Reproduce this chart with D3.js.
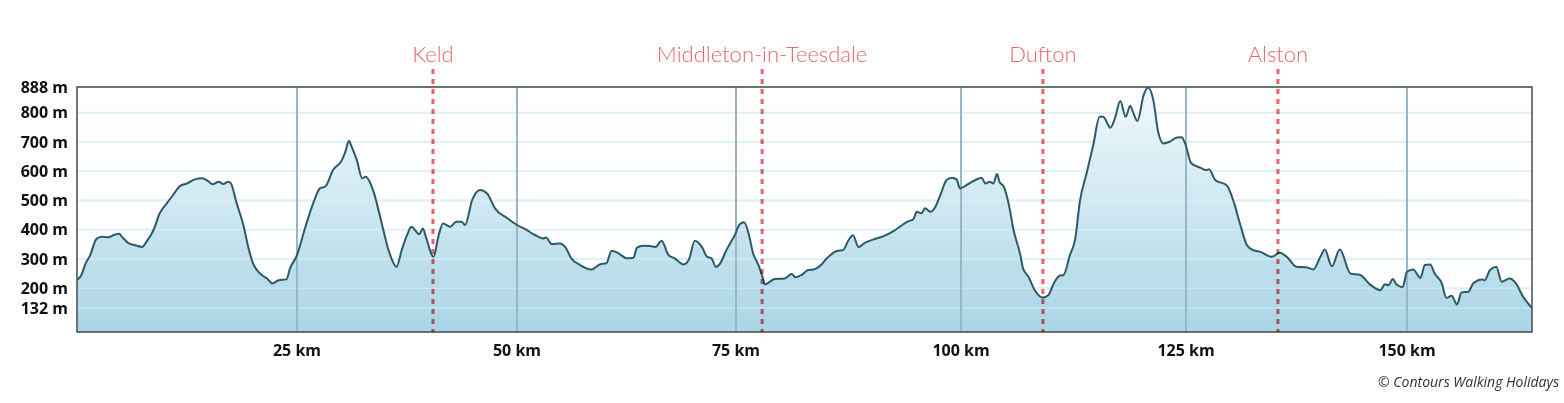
<!DOCTYPE html>
<html>
<head>
<meta charset="utf-8">
<script src="https://cdn.jsdelivr.net/npm/d3@7"></script>
<style>
  html, body { margin: 0; padding: 0; background: #fff; }
  svg { display: block; }
</style>
</head>
<body>
<svg id="chart" width="1564" height="403"></svg>
<script>
// ---- data ----
const distanceKm = [
  0.0,0.5,0.9,1.5,2.2,2.8,3.6,4.1,4.8,5.1,5.8,6.6,7.4,7.9,8.7,9.4,10.2,10.9,11.7,12.5,
  13.4,14.2,14.9,15.4,16.1,16.6,17.2,17.5,18.1,18.9,19.5,20.0,20.8,21.6,22.2,22.9,23.8,24.2,25.0,
  25.9,26.9,27.6,28.2,29.1,30.1,30.5,30.9,31.2,31.8,32.4,32.8,33.7,34.4,35.4,35.9,36.3,36.9,37.5,
  38.0,38.4,38.9,39.3,39.7,40.5,41.1,41.6,42.4,43.1,43.7,44.1,44.9,45.8,46.6,47.5,48.9,50.0,
  51.1,51.9,53.0,53.3,54.0,54.9,55.5,56.2,57.2,58.5,59.5,60.2,60.8,61.6,62.5,63.3,63.7,64.4,65.2,
  65.8,66.5,67.3,68.0,69.0,69.6,70.3,71.1,71.7,72.2,72.7,73.2,73.9,74.9,
  75.4,75.9,76.4,76.9,77.5,78.0,78.2,79.3,80.4,81.2,81.6,82.3,83.0,83.6,84.5,85.1,86.2,86.9,87.5,
  88.0,88.6,89.3,90.3,91.4,92.5,93.2,94.0,94.7,95.1,95.6,96.0,96.6,97.1,97.7,98.4,99.0,99.5,99.9,
  100.6,101.6,102.3,102.7,103.2,103.6,104.0,104.3,104.7,105.4,105.8,106.6,106.9,107.5,108.2,109.1,
  109.7,110.4,111.0,111.4,112.1,112.7,113.2,114.0,114.7,115.4,115.8,116.6,117.1,117.7,118.3,118.8,
  119.1,119.6,120.3,120.8,121.4,121.9,122.5,123.2,124.0,124.5,124.9,
  125.6,126.6,127.3,127.6,128.3,129.6,130.4,131.1,131.9,132.6,133.4,134.7,135.6,136.4,137.5,138.7,
  139.4,140.2,140.7,141.5,142.4,143.6,144.7,145.8,147.0,147.5,147.9,148.4,148.8,149.5,150.0,
  150.7,151.5,152.0,152.6,153.1,153.9,154.4,155.0,155.6,156.1,156.9,157.4,158.4,158.7,159.3,160.0,
  160.6,161.5,162.2,163.0,164.0
];
const elevationM = [
  228,245,279,313,368,376,374,381,386,376,355,347,341,359,399,456,490,518,549,558,
  572,576,566,555,564,556,564,558,495,416,336,285,250,233,216,227,230,267,313,
  404,495,541,547,604,638,667,704,684,638,576,581,530,450,330,290,273,330,381,
  410,399,384,404,370,307,381,421,410,427,427,416,501,536,524,473,439,416,
  399,384,370,373,350,353,341,302,279,264,282,285,328,319,302,304,339,345,344,
  341,362,313,302,281,296,362,341,307,302,273,285,330,384,
  418,425,387,319,279,233,213,231,233,248,237,245,262,264,281,302,327,330,364,
  381,341,355,367,378,395,410,427,436,461,456,473,461,475,518,570,578,572,541,
  552,570,578,558,564,558,590,562,550,473,404,313,267,239,193,168,
  176,222,243,245,313,370,495,598,690,786,786,749,781,840,786,824,
  803,772,861,886,838,735,695,701,715,716,695,
  627,612,604,607,570,552,495,421,347,330,324,307,321,307,273,271,
  264,307,332,275,332,250,245,213,193,213,210,231,213,203,256,
  264,235,279,281,250,216,167,174,144,185,188,216,230,227,262,273,
  222,233,216,171,132
];
const kmTicks = [25, 50, 75, 100, 125, 150];
const kmTickLabels = ["25 km", "50 km", "75 km", "100 km", "125 km", "150 km"];
const elevTicks = [888, 800, 700, 600, 500, 400, 300, 200, 132];
const elevTickLabels = ["888 m", "800 m", "700 m", "600 m", "500 m", "400 m", "300 m", "200 m", "132 m"];
const townNames = ["Keld", "Middleton-in-Teesdale", "Dufton", "Alston"];
const townKm = [40.45, 77.9, 109.1, 135.4];
const credit = "\u00A9 Contours Walking Holidays";

// ---- layout ----
const svg = d3.select("#chart");
const L = 77, R = 1532, T = 87, B = 332;

const x = d3.scaleLinear()
  .domain([0, 25, 50, 75, 100, 125, 150, 164])
  .range([L, 297, 517, 736, 961, 1186, 1407, R]);
const y = d3.scaleLinear().domain([50, 888]).range([B, T]);

const defs = svg.append("defs");
const grad = defs.append("linearGradient")
  .attr("id", "fillGrad").attr("gradientUnits", "userSpaceOnUse")
  .attr("x1", 0).attr("x2", 0).attr("y1", T).attr("y2", B);
grad.append("stop").attr("offset", "0%").attr("stop-color", "#f1f9fc");
grad.append("stop").attr("offset", "100%").attr("stop-color", "#aad5e5");

defs.append("clipPath").attr("id", "plotClip")
  .append("rect").attr("x", L).attr("y", T).attr("width", R - L).attr("height", B - T);

const data = distanceKm.map((d, i) => ({ km: d, e: elevationM[i] }));

// horizontal grid (under)
svg.append("g").selectAll("line").data(elevTicks).join("line")
  .attr("x1", L).attr("x2", R)
  .attr("y1", d => y(d)).attr("y2", d => y(d))
  .attr("stroke", "#dceef6").attr("stroke-width", 2);

const plot = svg.append("g").attr("clip-path", "url(#plotClip)");

const area = d3.area().x(d => x(d.km)).y0(B).y1(d => y(d.e)).curve(d3.curveMonotoneX);
const line = d3.line().x(d => x(d.km)).y(d => y(d.e)).curve(d3.curveMonotoneX);

plot.append("path").datum(data).attr("d", area).attr("fill", "url(#fillGrad)");

// horizontal grid over fill (faint)
plot.append("g").selectAll("line").data(elevTicks).join("line")
  .attr("x1", L).attr("x2", R)
  .attr("y1", d => y(d)).attr("y2", d => y(d))
  .attr("stroke", "#e6f3f9").attr("stroke-width", 1.5).attr("opacity", 0.45);

// vertical grid
plot.append("g").selectAll("line").data(kmTicks).join("line")
  .attr("x1", d => x(d)).attr("x2", d => x(d))
  .attr("y1", T).attr("y2", B)
  .attr("stroke", "#98b7c6").attr("stroke-width", 2);

plot.append("path").datum(data).attr("d", line)
  .attr("fill", "none").attr("stroke", "#2c5a68").attr("stroke-width", 2)
  .attr("stroke-linejoin", "round");

// border
svg.append("rect").attr("x", L).attr("y", T).attr("width", R - L).attr("height", B - T)
  .attr("fill", "none").attr("stroke", "#4a4a4a").attr("stroke-width", 1.5);

// town markers
const towns = svg.append("g");
towns.selectAll("line").data(townKm).join("line")
  .attr("x1", d => x(d)).attr("x2", d => x(d))
  .attr("y1", 69).attr("y2", B)
  .attr("stroke", "#e9636b").attr("stroke-width", 3)
  .attr("stroke-dasharray", "5,5")
  .style("mix-blend-mode", "multiply");
towns.selectAll("text").data(townNames).join("text")
  .attr("x", (d, i) => x(townKm[i])).attr("y", 62)
  .attr("text-anchor", "middle")
  .attr("font-family", "Lato, 'Open Sans', sans-serif")
  .attr("font-weight", 300)
  .attr("font-size", 22)
  .attr("fill", "#e8666d")
  .text(d => d);

// y axis labels
svg.append("g").selectAll("text").data(elevTicks).join("text")
  .attr("x", 68).attr("y", d => y(d)).attr("dy", "0.36em")
  .attr("text-anchor", "end")
  .attr("font-family", "'Open Sans', sans-serif").attr("font-weight", 700)
  .attr("font-size", 16).attr("fill", "#111")
  .text((d, i) => elevTickLabels[i]);

// x axis labels
svg.append("g").selectAll("text").data(kmTicks).join("text")
  .attr("x", d => x(d)).attr("y", 356)
  .attr("text-anchor", "middle")
  .attr("font-family", "'Open Sans', sans-serif").attr("font-weight", 700)
  .attr("font-size", 16).attr("fill", "#111")
  .text((d, i) => kmTickLabels[i]);

// credit
svg.append("text").attr("x", 1559).attr("y", 387).attr("text-anchor", "end")
  .attr("font-family", "'Open Sans', sans-serif").attr("font-style", "italic")
  .attr("font-size", 14).attr("fill", "#333").text(credit);
</script>
</body>
</html>
